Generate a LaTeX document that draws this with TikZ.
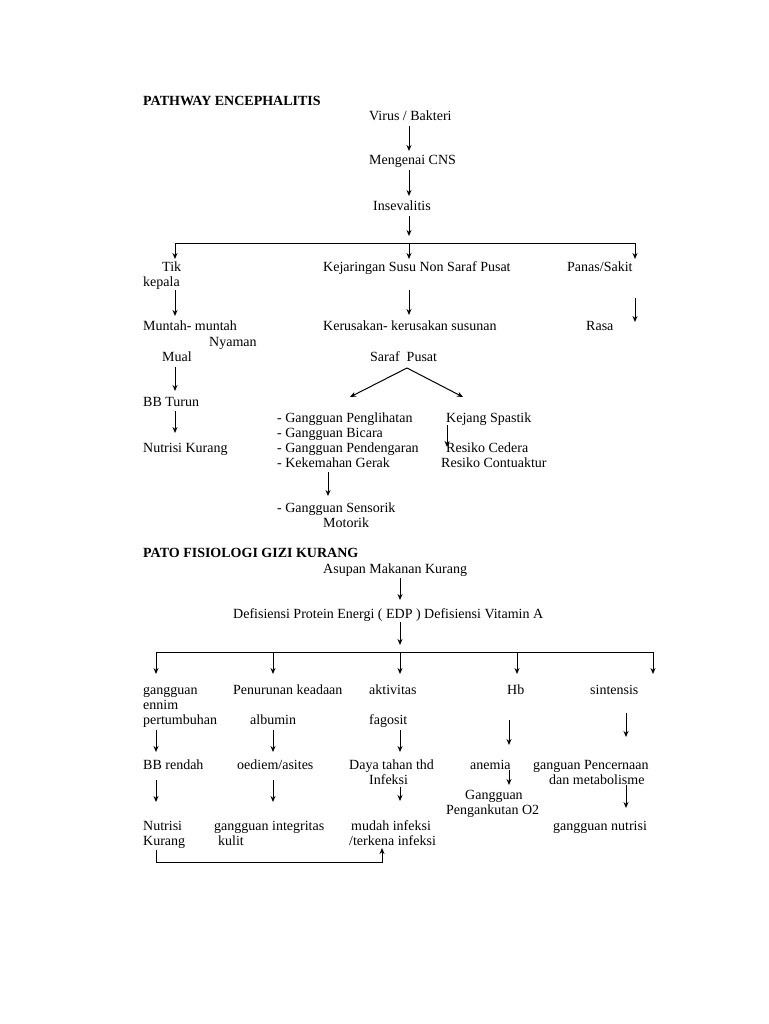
\documentclass[tikz,border=0pt]{standalone}
\usepackage{fontspec}
\setmainfont{Liberation Serif}
\usetikzlibrary{arrows.meta}
\begin{document}
\begin{tikzpicture}[x=1pt,y=-1pt,
  t/.style={anchor=base west,inner sep=0pt,font=\fontsize{14}{16}\selectfont,yshift=-4.5pt},
  b/.style={t,font=\fontsize{14}{16}\selectfont\bfseries},
  ar/.style={-{Stealth[length=6pt,width=5pt]},line width=1pt},
  ln/.style={line width=1pt}]
\useasboundingbox[fill=white] (0,0) rectangle (768,1024);
% Section 1
\node[b] (h1) at (143,101) {PATHWAY ENCEPHALITIS};
\node[t] (v) at (369,116) {Virus / Bakteri};
\node[t] (m) at (369,160) {Mengenai CNS};
\node[t] (i) at (373,206) {Insevalitis};
\draw[ar] (409,126) -- (409,151);
\draw[ar] (409,170) -- (409,196);
\draw[ar] (409,216) -- (409,236);
\draw[ln] (175,243) -- (635,243);
\foreach \x in {175,409,635} \draw[ar] (\x,243) -- (\x,259);
\node[t] at (162,267) {Tik};
\node[t] at (143,282) {kepala};
\node[t] at (323,267) {Kejaringan Susu Non Saraf Pusat};
\node[t] at (567,267) {Panas/Sakit};
\draw[ar] (175,290) -- (175,316);
\draw[ar] (409,290) -- (409,315);
\draw[ar] (635,298) -- (635,322);
\node[t] at (143,326) {Muntah- muntah};
\node[t] at (209,342) {Nyaman};
\node[t] at (162,357) {Mual};
\node[t] at (323,326) {Kerusakan- kerusakan susunan};
\node[t] at (586,326) {Rasa};
\node[t] at (370,357) {Saraf\ \ Pusat};
\draw[ar] (175,367) -- (175,391);
\draw[ar] (407,368) -- (350,397);
\draw[ar] (407,368) -- (463,397);
\node[t] at (143,402) {BB Turun};
\draw[ar] (175,411) -- (175,433);
\node[t] at (277,418) {- Gangguan Penglihatan};
\node[t] at (446,418) {Kejang Spastik};
\node[t] at (277,433) {- Gangguan Bicara};
\draw[ar] (447,425) -- (447,447);
\node[t] at (143,448) {Nutrisi Kurang};
\node[t] at (277,448) {- Gangguan Pendengaran};
\node[t] at (446,448) {Resiko Cedera};
\node[t] at (277,463) {- Kekemahan Gerak};
\node[t] at (441,463) {Resiko Contuaktur};
\draw[ar] (328,472) -- (328,496);
\node[t] at (277,508) {- Gangguan Sensorik};
\node[t] at (323,523) {Motorik};
% Section 2
\node[b] at (143,553) {PATO FISIOLOGI GIZI KURANG};
\node[t] at (323,569) {Asupan Makanan Kurang};
\draw[ar] (400,578) -- (400,600);
\node[t] at (233,614) {Defisiensi Protein Energi ( EDP ) Defisiensi Vitamin A};
\draw[ar] (400,622) -- (400,645);
\draw[ln] (156,652) -- (653,652);
\foreach \x in {156,273,400,517,653} \draw[ar] (\x,652) -- (\x,674);
\node[t] at (143,690) {gangguan};
\node[t] at (143,705) {ennim};
\node[t] at (143,720) {pertumbuhan};
\node[t] at (233,690) {Penurunan keadaan};
\node[t] at (250,720) {albumin};
\node[t] at (369,690) {aktivitas};
\node[t] at (369,720) {fagosit};
\node[t] at (507,690) {Hb};
\node[t] at (590,690) {sintensis};
\draw[ar] (156,730) -- (156,752);
\draw[ar] (273,730) -- (273,752);
\draw[ar] (400,730) -- (400,752);
\draw[ar] (509,720) -- (509,745);
\draw[ar] (626,713) -- (626,737);
\node[t] at (143,765) {BB rendah};
\node[t] at (237,765) {oediem/asites};
\node[t] at (349,765) {Daya tahan thd};
\node[t] at (369,780) {Infeksi};
\node[t] at (470,765) {anemia};
\node[t] at (533,765) {ganguan Pencernaan};
\node[t] at (549,780) {dan metabolisme};
\draw[ar] (156,780) -- (156,802);
\draw[ar] (273,780) -- (273,802);
\draw[ar] (400,787) -- (400,801);
\draw[ar] (509,770) -- (509,785);
\draw[ar] (626,785) -- (626,808);
\node[t] at (465,795) {Gangguan};
\node[t] at (446,810) {Pengankutan O2};
\node[t] at (143,826) {Nutrisi};
\node[t] at (143,841) {Kurang};
\node[t] at (214,826) {gangguan integritas};
\node[t] at (218,841) {kulit};
\node[t] at (351,826) {mudah infeksi};
\node[t] at (349,841) {/terkena infeksi};
\node[t] at (553,826) {gangguan nutrisi};
\draw[ar] (156,850) -- (156,862) -- (382,862) -- (382,848);
\end{tikzpicture}
\end{document}
